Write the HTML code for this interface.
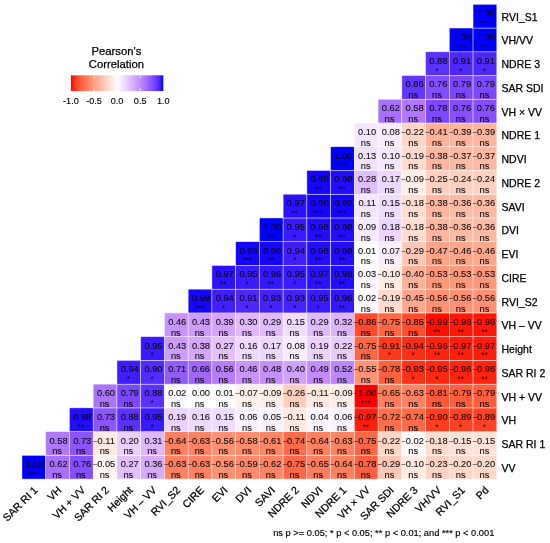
<!DOCTYPE html><html><head><meta charset="utf-8"><title>Pearson correlation heatmap</title>
<style>html,body{margin:0;padding:0;background:#fff}svg{display:block}text{font-family:"Liberation Sans",sans-serif;fill:#000}.v{font-size:9.3px;text-anchor:middle;stroke:#000;stroke-width:.1px;fill-opacity:.92}.s{font-size:8.4px;stroke:none;fill-opacity:.85}.m{font-size:7.6px}.ax{font-size:10.5px;stroke:#000;stroke-width:.25px}.lt{font-size:11.3px;text-anchor:middle;stroke:#000;stroke-width:.25px}.tk{font-size:9.1px;text-anchor:middle;stroke:#000;stroke-width:.12px}.cap{font-size:9.29px;stroke:#000;stroke-width:.15px}</style></head><body>
<svg width="550" height="543" viewBox="0 0 550 543">
<rect width="550" height="543" fill="#fff"/>
<defs><linearGradient id="lg" x1="0" x2="1" y1="0" y2="0"><stop offset="0%" stop-color="#ff0000"/><stop offset="5%" stop-color="#ff3e22"/><stop offset="10%" stop-color="#ff5b3a"/><stop offset="15%" stop-color="#ff7352"/><stop offset="20%" stop-color="#ff8969"/><stop offset="25%" stop-color="#ff9e81"/><stop offset="30%" stop-color="#ffb299"/><stop offset="35%" stop-color="#ffc6b2"/><stop offset="40%" stop-color="#ffd9cb"/><stop offset="45%" stop-color="#ffece5"/><stop offset="50%" stop-color="#ffffff"/><stop offset="55%" stop-color="#f6e7fe"/><stop offset="60%" stop-color="#ebd0fd"/><stop offset="65%" stop-color="#dfb9fc"/><stop offset="70%" stop-color="#d1a2fb"/><stop offset="75%" stop-color="#c08bfb"/><stop offset="80%" stop-color="#ac74fb"/><stop offset="85%" stop-color="#955dfc"/><stop offset="90%" stop-color="#7845fd"/><stop offset="95%" stop-color="#542bfe"/><stop offset="100%" stop-color="#0000ff"/></linearGradient></defs>
<g stroke="#fff" stroke-width="0.6" stroke-opacity="0.7">
<rect x="22.00" y="455.36" width="23.74" height="23.74" fill="#0000ff"/>
<rect x="45.74" y="455.36" width="23.74" height="23.74" fill="#a870fb"/>
<rect x="69.48" y="455.36" width="23.74" height="23.74" fill="#854ffc"/>
<rect x="93.22" y="455.36" width="23.74" height="23.74" fill="#fff5f2"/>
<rect x="116.96" y="455.36" width="23.74" height="23.74" fill="#e3c0fc"/>
<rect x="140.70" y="455.36" width="23.74" height="23.74" fill="#d7abfb"/>
<rect x="164.44" y="455.36" width="23.74" height="23.74" fill="#ff8362"/>
<rect x="188.18" y="455.36" width="23.74" height="23.74" fill="#ff8362"/>
<rect x="211.92" y="455.36" width="23.74" height="23.74" fill="#ff9273"/>
<rect x="235.66" y="455.36" width="23.74" height="23.74" fill="#ff8b6c"/>
<rect x="259.40" y="455.36" width="23.74" height="23.74" fill="#ff8565"/>
<rect x="283.14" y="455.36" width="23.74" height="23.74" fill="#ff6846"/>
<rect x="306.88" y="455.36" width="23.74" height="23.74" fill="#ff7e5e"/>
<rect x="330.62" y="455.36" width="23.74" height="23.74" fill="#ff8160"/>
<rect x="354.36" y="455.36" width="23.74" height="23.74" fill="#ff603f"/>
<rect x="378.10" y="455.36" width="23.74" height="23.74" fill="#ffc7b5"/>
<rect x="401.84" y="455.36" width="23.74" height="23.74" fill="#ffece5"/>
<rect x="425.58" y="455.36" width="23.74" height="23.74" fill="#ffd3c4"/>
<rect x="449.32" y="455.36" width="23.74" height="23.74" fill="#ffd9cb"/>
<rect x="473.06" y="455.36" width="23.74" height="23.74" fill="#ffd9cb"/>
<rect x="45.74" y="431.62" width="23.74" height="23.74" fill="#b079fb"/>
<rect x="69.48" y="431.62" width="23.74" height="23.74" fill="#8d56fc"/>
<rect x="93.22" y="431.62" width="23.74" height="23.74" fill="#ffeae2"/>
<rect x="116.96" y="431.62" width="23.74" height="23.74" fill="#ebd0fd"/>
<rect x="140.70" y="431.62" width="23.74" height="23.74" fill="#deb7fc"/>
<rect x="164.44" y="431.62" width="23.74" height="23.74" fill="#ff8160"/>
<rect x="188.18" y="431.62" width="23.74" height="23.74" fill="#ff8362"/>
<rect x="211.92" y="431.62" width="23.74" height="23.74" fill="#ff9273"/>
<rect x="235.66" y="431.62" width="23.74" height="23.74" fill="#ff8d6e"/>
<rect x="259.40" y="431.62" width="23.74" height="23.74" fill="#ff8767"/>
<rect x="283.14" y="431.62" width="23.74" height="23.74" fill="#ff6a49"/>
<rect x="306.88" y="431.62" width="23.74" height="23.74" fill="#ff8160"/>
<rect x="330.62" y="431.62" width="23.74" height="23.74" fill="#ff8362"/>
<rect x="354.36" y="431.62" width="23.74" height="23.74" fill="#ff6846"/>
<rect x="378.10" y="431.62" width="23.74" height="23.74" fill="#ffd5c6"/>
<rect x="401.84" y="431.62" width="23.74" height="23.74" fill="#fffbfa"/>
<rect x="425.58" y="431.62" width="23.74" height="23.74" fill="#ffddd0"/>
<rect x="449.32" y="431.62" width="23.74" height="23.74" fill="#ffe2d8"/>
<rect x="473.06" y="431.62" width="23.74" height="23.74" fill="#ffe2d8"/>
<rect x="69.48" y="407.88" width="23.74" height="23.74" fill="#220dff"/>
<rect x="93.22" y="407.88" width="23.74" height="23.74" fill="#8d56fc"/>
<rect x="116.96" y="407.88" width="23.74" height="23.74" fill="#5c31fe"/>
<rect x="140.70" y="407.88" width="23.74" height="23.74" fill="#3a1bfe"/>
<rect x="164.44" y="407.88" width="23.74" height="23.74" fill="#ecd2fd"/>
<rect x="188.18" y="407.88" width="23.74" height="23.74" fill="#efd9fd"/>
<rect x="211.92" y="407.88" width="23.74" height="23.74" fill="#f0dcfd"/>
<rect x="235.66" y="407.88" width="23.74" height="23.74" fill="#f9f1fe"/>
<rect x="259.40" y="407.88" width="23.74" height="23.74" fill="#faf3fe"/>
<rect x="283.14" y="407.88" width="23.74" height="23.74" fill="#ffeae2"/>
<rect x="306.88" y="407.88" width="23.74" height="23.74" fill="#fbf6fe"/>
<rect x="330.62" y="407.88" width="23.74" height="23.74" fill="#f9f1fe"/>
<rect x="354.36" y="407.88" width="23.74" height="23.74" fill="#ff1e0c"/>
<rect x="378.10" y="407.88" width="23.74" height="23.74" fill="#ff6f4d"/>
<rect x="401.84" y="407.88" width="23.74" height="23.74" fill="#ff6a49"/>
<rect x="425.58" y="407.88" width="23.74" height="23.74" fill="#ff3e22"/>
<rect x="449.32" y="407.88" width="23.74" height="23.74" fill="#ff4124"/>
<rect x="473.06" y="407.88" width="23.74" height="23.74" fill="#ff4124"/>
<rect x="93.22" y="384.14" width="23.74" height="23.74" fill="#ac74fb"/>
<rect x="116.96" y="384.14" width="23.74" height="23.74" fill="#7c48fd"/>
<rect x="140.70" y="384.14" width="23.74" height="23.74" fill="#5c31fe"/>
<rect x="164.44" y="384.14" width="23.74" height="23.74" fill="#fdfaff"/>
<rect x="188.18" y="384.14" width="23.74" height="23.74" fill="#ffffff"/>
<rect x="211.92" y="384.14" width="23.74" height="23.74" fill="#fefdff"/>
<rect x="235.66" y="384.14" width="23.74" height="23.74" fill="#fff2ed"/>
<rect x="259.40" y="384.14" width="23.74" height="23.74" fill="#ffeee8"/>
<rect x="283.14" y="384.14" width="23.74" height="23.74" fill="#ffcdbc"/>
<rect x="306.88" y="384.14" width="23.74" height="23.74" fill="#ffeae2"/>
<rect x="330.62" y="384.14" width="23.74" height="23.74" fill="#ffeee8"/>
<rect x="354.36" y="384.14" width="23.74" height="23.74" fill="#ff0000"/>
<rect x="378.10" y="384.14" width="23.74" height="23.74" fill="#ff7e5e"/>
<rect x="401.84" y="384.14" width="23.74" height="23.74" fill="#ff8362"/>
<rect x="425.58" y="384.14" width="23.74" height="23.74" fill="#ff5838"/>
<rect x="449.32" y="384.14" width="23.74" height="23.74" fill="#ff5e3d"/>
<rect x="473.06" y="384.14" width="23.74" height="23.74" fill="#ff5e3d"/>
<rect x="116.96" y="360.40" width="23.74" height="23.74" fill="#401efe"/>
<rect x="140.70" y="360.40" width="23.74" height="23.74" fill="#542bfe"/>
<rect x="164.44" y="360.40" width="23.74" height="23.74" fill="#925bfc"/>
<rect x="188.18" y="360.40" width="23.74" height="23.74" fill="#9f67fb"/>
<rect x="211.92" y="360.40" width="23.74" height="23.74" fill="#b47dfb"/>
<rect x="235.66" y="360.40" width="23.74" height="23.74" fill="#c794fb"/>
<rect x="259.40" y="360.40" width="23.74" height="23.74" fill="#c390fb"/>
<rect x="283.14" y="360.40" width="23.74" height="23.74" fill="#d1a2fb"/>
<rect x="306.88" y="360.40" width="23.74" height="23.74" fill="#c28dfb"/>
<rect x="330.62" y="360.40" width="23.74" height="23.74" fill="#bc87fb"/>
<rect x="354.36" y="360.40" width="23.74" height="23.74" fill="#ff9475"/>
<rect x="378.10" y="360.40" width="23.74" height="23.74" fill="#ff603f"/>
<rect x="401.84" y="360.40" width="23.74" height="23.74" fill="#ff3219"/>
<rect x="425.58" y="360.40" width="23.74" height="23.74" fill="#ff2913"/>
<rect x="449.32" y="360.40" width="23.74" height="23.74" fill="#ff2410"/>
<rect x="473.06" y="360.40" width="23.74" height="23.74" fill="#ff2410"/>
<rect x="140.70" y="336.66" width="23.74" height="23.74" fill="#3a1bfe"/>
<rect x="164.44" y="336.66" width="23.74" height="23.74" fill="#cc9bfb"/>
<rect x="188.18" y="336.66" width="23.74" height="23.74" fill="#d4a7fb"/>
<rect x="211.92" y="336.66" width="23.74" height="23.74" fill="#e3c0fc"/>
<rect x="235.66" y="336.66" width="23.74" height="23.74" fill="#efd9fd"/>
<rect x="259.40" y="336.66" width="23.74" height="23.74" fill="#eed7fd"/>
<rect x="283.14" y="336.66" width="23.74" height="23.74" fill="#f8ecfe"/>
<rect x="306.88" y="336.66" width="23.74" height="23.74" fill="#ecd2fd"/>
<rect x="330.62" y="336.66" width="23.74" height="23.74" fill="#e9cbfc"/>
<rect x="354.36" y="336.66" width="23.74" height="23.74" fill="#ff6846"/>
<rect x="378.10" y="336.66" width="23.74" height="23.74" fill="#ff3a1f"/>
<rect x="401.84" y="336.66" width="23.74" height="23.74" fill="#ff2e16"/>
<rect x="425.58" y="336.66" width="23.74" height="23.74" fill="#ff2410"/>
<rect x="449.32" y="336.66" width="23.74" height="23.74" fill="#ff1e0c"/>
<rect x="473.06" y="336.66" width="23.74" height="23.74" fill="#ff1e0c"/>
<rect x="164.44" y="312.92" width="23.74" height="23.74" fill="#c794fb"/>
<rect x="188.18" y="312.92" width="23.74" height="23.74" fill="#cc9bfb"/>
<rect x="211.92" y="312.92" width="23.74" height="23.74" fill="#d2a4fb"/>
<rect x="235.66" y="312.92" width="23.74" height="23.74" fill="#dfb9fc"/>
<rect x="259.40" y="312.92" width="23.74" height="23.74" fill="#e0bbfc"/>
<rect x="283.14" y="312.92" width="23.74" height="23.74" fill="#f0dcfd"/>
<rect x="306.88" y="312.92" width="23.74" height="23.74" fill="#e0bbfc"/>
<rect x="330.62" y="312.92" width="23.74" height="23.74" fill="#dcb4fc"/>
<rect x="354.36" y="312.92" width="23.74" height="23.74" fill="#ff4a2c"/>
<rect x="378.10" y="312.92" width="23.74" height="23.74" fill="#ff6846"/>
<rect x="401.84" y="312.92" width="23.74" height="23.74" fill="#ff4d2e"/>
<rect x="425.58" y="312.92" width="23.74" height="23.74" fill="#ff0e04"/>
<rect x="449.32" y="312.92" width="23.74" height="23.74" fill="#ff1708"/>
<rect x="473.06" y="312.92" width="23.74" height="23.74" fill="#ff1708"/>
<rect x="188.18" y="289.18" width="23.74" height="23.74" fill="#1606ff"/>
<rect x="211.92" y="289.18" width="23.74" height="23.74" fill="#401efe"/>
<rect x="235.66" y="289.18" width="23.74" height="23.74" fill="#4f28fe"/>
<rect x="259.40" y="289.18" width="23.74" height="23.74" fill="#4522fe"/>
<rect x="283.14" y="289.18" width="23.74" height="23.74" fill="#4522fe"/>
<rect x="306.88" y="289.18" width="23.74" height="23.74" fill="#3a1bfe"/>
<rect x="330.62" y="289.18" width="23.74" height="23.74" fill="#3317fe"/>
<rect x="354.36" y="289.18" width="23.74" height="23.74" fill="#fdfaff"/>
<rect x="378.10" y="289.18" width="23.74" height="23.74" fill="#ffdbce"/>
<rect x="401.84" y="289.18" width="23.74" height="23.74" fill="#ffa88d"/>
<rect x="425.58" y="289.18" width="23.74" height="23.74" fill="#ff9273"/>
<rect x="449.32" y="289.18" width="23.74" height="23.74" fill="#ff9273"/>
<rect x="473.06" y="289.18" width="23.74" height="23.74" fill="#ff9273"/>
<rect x="211.92" y="265.44" width="23.74" height="23.74" fill="#2b12ff"/>
<rect x="235.66" y="265.44" width="23.74" height="23.74" fill="#3a1bfe"/>
<rect x="259.40" y="265.44" width="23.74" height="23.74" fill="#3317fe"/>
<rect x="283.14" y="265.44" width="23.74" height="23.74" fill="#3a1bfe"/>
<rect x="306.88" y="265.44" width="23.74" height="23.74" fill="#2b12ff"/>
<rect x="330.62" y="265.44" width="23.74" height="23.74" fill="#220dff"/>
<rect x="354.36" y="265.44" width="23.74" height="23.74" fill="#fcf8ff"/>
<rect x="378.10" y="265.44" width="23.74" height="23.74" fill="#ffece5"/>
<rect x="401.84" y="265.44" width="23.74" height="23.74" fill="#ffb299"/>
<rect x="425.58" y="265.44" width="23.74" height="23.74" fill="#ff987a"/>
<rect x="449.32" y="265.44" width="23.74" height="23.74" fill="#ff987a"/>
<rect x="473.06" y="265.44" width="23.74" height="23.74" fill="#ff987a"/>
<rect x="235.66" y="241.70" width="23.74" height="23.74" fill="#1606ff"/>
<rect x="259.40" y="241.70" width="23.74" height="23.74" fill="#1606ff"/>
<rect x="283.14" y="241.70" width="23.74" height="23.74" fill="#401efe"/>
<rect x="306.88" y="241.70" width="23.74" height="23.74" fill="#220dff"/>
<rect x="330.62" y="241.70" width="23.74" height="23.74" fill="#220dff"/>
<rect x="354.36" y="241.70" width="23.74" height="23.74" fill="#fefdff"/>
<rect x="378.10" y="241.70" width="23.74" height="23.74" fill="#f9eefe"/>
<rect x="401.84" y="241.70" width="23.74" height="23.74" fill="#ffc7b5"/>
<rect x="425.58" y="241.70" width="23.74" height="23.74" fill="#ffa488"/>
<rect x="449.32" y="241.70" width="23.74" height="23.74" fill="#ffa68b"/>
<rect x="473.06" y="241.70" width="23.74" height="23.74" fill="#ffa68b"/>
<rect x="259.40" y="217.96" width="23.74" height="23.74" fill="#0000ff"/>
<rect x="283.14" y="217.96" width="23.74" height="23.74" fill="#3a1bfe"/>
<rect x="306.88" y="217.96" width="23.74" height="23.74" fill="#220dff"/>
<rect x="330.62" y="217.96" width="23.74" height="23.74" fill="#220dff"/>
<rect x="354.36" y="217.96" width="23.74" height="23.74" fill="#f7eafe"/>
<rect x="378.10" y="217.96" width="23.74" height="23.74" fill="#edd5fd"/>
<rect x="401.84" y="217.96" width="23.74" height="23.74" fill="#ffddd0"/>
<rect x="425.58" y="217.96" width="23.74" height="23.74" fill="#ffb69e"/>
<rect x="449.32" y="217.96" width="23.74" height="23.74" fill="#ffbaa3"/>
<rect x="473.06" y="217.96" width="23.74" height="23.74" fill="#ffbaa3"/>
<rect x="283.14" y="194.22" width="23.74" height="23.74" fill="#2b12ff"/>
<rect x="306.88" y="194.22" width="23.74" height="23.74" fill="#1606ff"/>
<rect x="330.62" y="194.22" width="23.74" height="23.74" fill="#1606ff"/>
<rect x="354.36" y="194.22" width="23.74" height="23.74" fill="#f5e5fe"/>
<rect x="378.10" y="194.22" width="23.74" height="23.74" fill="#f0dcfd"/>
<rect x="401.84" y="194.22" width="23.74" height="23.74" fill="#ffddd0"/>
<rect x="425.58" y="194.22" width="23.74" height="23.74" fill="#ffb69e"/>
<rect x="449.32" y="194.22" width="23.74" height="23.74" fill="#ffbaa3"/>
<rect x="473.06" y="194.22" width="23.74" height="23.74" fill="#ffbaa3"/>
<rect x="306.88" y="170.48" width="23.74" height="23.74" fill="#1606ff"/>
<rect x="330.62" y="170.48" width="23.74" height="23.74" fill="#220dff"/>
<rect x="354.36" y="170.48" width="23.74" height="23.74" fill="#e1befc"/>
<rect x="378.10" y="170.48" width="23.74" height="23.74" fill="#eed7fd"/>
<rect x="401.84" y="170.48" width="23.74" height="23.74" fill="#ffeee8"/>
<rect x="425.58" y="170.48" width="23.74" height="23.74" fill="#ffcfbf"/>
<rect x="449.32" y="170.48" width="23.74" height="23.74" fill="#ffd1c1"/>
<rect x="473.06" y="170.48" width="23.74" height="23.74" fill="#ffd1c1"/>
<rect x="330.62" y="146.74" width="23.74" height="23.74" fill="#0000ff"/>
<rect x="354.36" y="146.74" width="23.74" height="23.74" fill="#f3e0fd"/>
<rect x="378.10" y="146.74" width="23.74" height="23.74" fill="#f6e7fe"/>
<rect x="401.84" y="146.74" width="23.74" height="23.74" fill="#ffdbce"/>
<rect x="425.58" y="146.74" width="23.74" height="23.74" fill="#ffb69e"/>
<rect x="449.32" y="146.74" width="23.74" height="23.74" fill="#ffb8a1"/>
<rect x="473.06" y="146.74" width="23.74" height="23.74" fill="#ffb8a1"/>
<rect x="354.36" y="123.00" width="23.74" height="23.74" fill="#f6e7fe"/>
<rect x="378.10" y="123.00" width="23.74" height="23.74" fill="#f8ecfe"/>
<rect x="401.84" y="123.00" width="23.74" height="23.74" fill="#ffd5c6"/>
<rect x="425.58" y="123.00" width="23.74" height="23.74" fill="#ffb097"/>
<rect x="449.32" y="123.00" width="23.74" height="23.74" fill="#ffb49c"/>
<rect x="473.06" y="123.00" width="23.74" height="23.74" fill="#ffb49c"/>
<rect x="378.10" y="99.26" width="23.74" height="23.74" fill="#a870fb"/>
<rect x="401.84" y="99.26" width="23.74" height="23.74" fill="#b079fb"/>
<rect x="425.58" y="99.26" width="23.74" height="23.74" fill="#7f4afc"/>
<rect x="449.32" y="99.26" width="23.74" height="23.74" fill="#854ffc"/>
<rect x="473.06" y="99.26" width="23.74" height="23.74" fill="#854ffc"/>
<rect x="401.84" y="75.52" width="23.74" height="23.74" fill="#6436fd"/>
<rect x="425.58" y="75.52" width="23.74" height="23.74" fill="#854ffc"/>
<rect x="449.32" y="75.52" width="23.74" height="23.74" fill="#7c48fd"/>
<rect x="473.06" y="75.52" width="23.74" height="23.74" fill="#7c48fd"/>
<rect x="425.58" y="51.78" width="23.74" height="23.74" fill="#5c31fe"/>
<rect x="449.32" y="51.78" width="23.74" height="23.74" fill="#4f28fe"/>
<rect x="473.06" y="51.78" width="23.74" height="23.74" fill="#4f28fe"/>
<rect x="449.32" y="28.04" width="23.74" height="23.74" fill="#0000ff"/>
<rect x="473.06" y="28.04" width="23.74" height="23.74" fill="#0000ff"/>
<rect x="473.06" y="4.30" width="23.74" height="23.74" fill="#0000ff"/>
</g>
<g class="v">
<text x="34.77" y="467.26">1.00</text>
<text class="s" x="33.37" y="477.11">***</text>
<text x="58.51" y="467.26">0.62</text>
<text x="57.11" y="478.11">ns</text>
<text x="82.25" y="467.26">0.76</text>
<text x="80.85" y="478.11">ns</text>
<text x="103.99" y="467.26"><tspan class="m">−</tspan>0.05</text>
<text x="104.59" y="478.11">ns</text>
<text x="129.73" y="467.26">0.27</text>
<text x="128.33" y="478.11">ns</text>
<text x="153.47" y="467.26">0.36</text>
<text x="152.07" y="478.11">ns</text>
<text x="175.21" y="467.26"><tspan class="m">−</tspan>0.63</text>
<text x="175.81" y="478.11">ns</text>
<text x="198.95" y="467.26"><tspan class="m">−</tspan>0.63</text>
<text x="199.55" y="478.11">ns</text>
<text x="222.69" y="467.26"><tspan class="m">−</tspan>0.56</text>
<text x="223.29" y="478.11">ns</text>
<text x="246.43" y="467.26"><tspan class="m">−</tspan>0.59</text>
<text x="247.03" y="478.11">ns</text>
<text x="270.17" y="467.26"><tspan class="m">−</tspan>0.62</text>
<text x="270.77" y="478.11">ns</text>
<text x="293.91" y="467.26"><tspan class="m">−</tspan>0.75</text>
<text x="294.51" y="478.11">ns</text>
<text x="317.65" y="467.26"><tspan class="m">−</tspan>0.65</text>
<text x="318.25" y="478.11">ns</text>
<text x="341.39" y="467.26"><tspan class="m">−</tspan>0.64</text>
<text x="341.99" y="478.11">ns</text>
<text x="365.13" y="467.26"><tspan class="m">−</tspan>0.78</text>
<text x="365.73" y="478.11">ns</text>
<text x="388.87" y="467.26"><tspan class="m">−</tspan>0.29</text>
<text x="389.47" y="478.11">ns</text>
<text x="412.61" y="467.26"><tspan class="m">−</tspan>0.10</text>
<text x="413.21" y="478.11">ns</text>
<text x="436.35" y="467.26"><tspan class="m">−</tspan>0.23</text>
<text x="436.95" y="478.11">ns</text>
<text x="460.09" y="467.26"><tspan class="m">−</tspan>0.20</text>
<text x="460.69" y="478.11">ns</text>
<text x="483.83" y="467.26"><tspan class="m">−</tspan>0.20</text>
<text x="484.43" y="478.11">ns</text>
<text x="58.51" y="443.52">0.58</text>
<text x="57.11" y="454.37">ns</text>
<text x="82.25" y="443.52">0.73</text>
<text x="80.85" y="454.37">ns</text>
<text x="103.99" y="443.52"><tspan class="m">−</tspan>0.11</text>
<text x="104.59" y="454.37">ns</text>
<text x="129.73" y="443.52">0.20</text>
<text x="128.33" y="454.37">ns</text>
<text x="153.47" y="443.52">0.31</text>
<text x="152.07" y="454.37">ns</text>
<text x="175.21" y="443.52"><tspan class="m">−</tspan>0.64</text>
<text x="175.81" y="454.37">ns</text>
<text x="198.95" y="443.52"><tspan class="m">−</tspan>0.63</text>
<text x="199.55" y="454.37">ns</text>
<text x="222.69" y="443.52"><tspan class="m">−</tspan>0.56</text>
<text x="223.29" y="454.37">ns</text>
<text x="246.43" y="443.52"><tspan class="m">−</tspan>0.58</text>
<text x="247.03" y="454.37">ns</text>
<text x="270.17" y="443.52"><tspan class="m">−</tspan>0.61</text>
<text x="270.77" y="454.37">ns</text>
<text x="293.91" y="443.52"><tspan class="m">−</tspan>0.74</text>
<text x="294.51" y="454.37">ns</text>
<text x="317.65" y="443.52"><tspan class="m">−</tspan>0.64</text>
<text x="318.25" y="454.37">ns</text>
<text x="341.39" y="443.52"><tspan class="m">−</tspan>0.63</text>
<text x="341.99" y="454.37">ns</text>
<text x="365.13" y="443.52"><tspan class="m">−</tspan>0.75</text>
<text x="365.73" y="454.37">ns</text>
<text x="388.87" y="443.52"><tspan class="m">−</tspan>0.22</text>
<text x="389.47" y="454.37">ns</text>
<text x="412.61" y="443.52"><tspan class="m">−</tspan>0.02</text>
<text x="413.21" y="454.37">ns</text>
<text x="436.35" y="443.52"><tspan class="m">−</tspan>0.18</text>
<text x="436.95" y="454.37">ns</text>
<text x="460.09" y="443.52"><tspan class="m">−</tspan>0.15</text>
<text x="460.69" y="454.37">ns</text>
<text x="483.83" y="443.52"><tspan class="m">−</tspan>0.15</text>
<text x="484.43" y="454.37">ns</text>
<text x="82.25" y="419.78">0.98</text>
<text class="s" x="80.85" y="429.63">**</text>
<text x="105.99" y="419.78">0.73</text>
<text x="104.59" y="430.63">ns</text>
<text x="129.73" y="419.78">0.88</text>
<text x="128.33" y="430.63">ns</text>
<text x="153.47" y="419.78">0.95</text>
<text class="s" x="152.07" y="429.63">*</text>
<text x="177.21" y="419.78">0.19</text>
<text x="175.81" y="430.63">ns</text>
<text x="200.95" y="419.78">0.16</text>
<text x="199.55" y="430.63">ns</text>
<text x="224.69" y="419.78">0.15</text>
<text x="223.29" y="430.63">ns</text>
<text x="248.43" y="419.78">0.06</text>
<text x="247.03" y="430.63">ns</text>
<text x="272.17" y="419.78">0.05</text>
<text x="270.77" y="430.63">ns</text>
<text x="293.91" y="419.78"><tspan class="m">−</tspan>0.11</text>
<text x="294.51" y="430.63">ns</text>
<text x="319.65" y="419.78">0.04</text>
<text x="318.25" y="430.63">ns</text>
<text x="343.39" y="419.78">0.06</text>
<text x="341.99" y="430.63">ns</text>
<text x="365.13" y="419.78"><tspan class="m">−</tspan>0.97</text>
<text class="s" x="365.73" y="429.63">**</text>
<text x="388.87" y="419.78"><tspan class="m">−</tspan>0.72</text>
<text x="389.47" y="430.63">ns</text>
<text x="412.61" y="419.78"><tspan class="m">−</tspan>0.74</text>
<text x="413.21" y="430.63">ns</text>
<text x="436.35" y="419.78"><tspan class="m">−</tspan>0.90</text>
<text class="s" x="436.95" y="429.63">*</text>
<text x="460.09" y="419.78"><tspan class="m">−</tspan>0.89</text>
<text class="s" x="460.69" y="429.63">*</text>
<text x="483.83" y="419.78"><tspan class="m">−</tspan>0.89</text>
<text class="s" x="484.43" y="429.63">*</text>
<text x="105.99" y="396.04">0.60</text>
<text x="104.59" y="406.89">ns</text>
<text x="129.73" y="396.04">0.79</text>
<text x="128.33" y="406.89">ns</text>
<text x="153.47" y="396.04">0.88</text>
<text class="s" x="152.07" y="405.89">*</text>
<text x="177.21" y="396.04">0.02</text>
<text x="175.81" y="406.89">ns</text>
<text x="200.95" y="396.04">0.00</text>
<text x="199.55" y="406.89">ns</text>
<text x="224.69" y="396.04">0.01</text>
<text x="223.29" y="406.89">ns</text>
<text x="246.43" y="396.04"><tspan class="m">−</tspan>0.07</text>
<text x="247.03" y="406.89">ns</text>
<text x="270.17" y="396.04"><tspan class="m">−</tspan>0.09</text>
<text x="270.77" y="406.89">ns</text>
<text x="293.91" y="396.04"><tspan class="m">−</tspan>0.26</text>
<text x="294.51" y="406.89">ns</text>
<text x="317.65" y="396.04"><tspan class="m">−</tspan>0.11</text>
<text x="318.25" y="406.89">ns</text>
<text x="341.39" y="396.04"><tspan class="m">−</tspan>0.09</text>
<text x="341.99" y="406.89">ns</text>
<text x="365.13" y="396.04"><tspan class="m">−</tspan>1.00</text>
<text class="s" x="365.73" y="405.89">***</text>
<text x="388.87" y="396.04"><tspan class="m">−</tspan>0.65</text>
<text x="389.47" y="406.89">ns</text>
<text x="412.61" y="396.04"><tspan class="m">−</tspan>0.63</text>
<text x="413.21" y="406.89">ns</text>
<text x="436.35" y="396.04"><tspan class="m">−</tspan>0.81</text>
<text x="436.95" y="406.89">ns</text>
<text x="460.09" y="396.04"><tspan class="m">−</tspan>0.79</text>
<text x="460.69" y="406.89">ns</text>
<text x="483.83" y="396.04"><tspan class="m">−</tspan>0.79</text>
<text x="484.43" y="406.89">ns</text>
<text x="129.73" y="372.30">0.94</text>
<text class="s" x="128.33" y="382.15">*</text>
<text x="153.47" y="372.30">0.90</text>
<text class="s" x="152.07" y="382.15">*</text>
<text x="177.21" y="372.30">0.71</text>
<text x="175.81" y="383.15">ns</text>
<text x="200.95" y="372.30">0.66</text>
<text x="199.55" y="383.15">ns</text>
<text x="224.69" y="372.30">0.56</text>
<text x="223.29" y="383.15">ns</text>
<text x="248.43" y="372.30">0.46</text>
<text x="247.03" y="383.15">ns</text>
<text x="272.17" y="372.30">0.48</text>
<text x="270.77" y="383.15">ns</text>
<text x="295.91" y="372.30">0.40</text>
<text x="294.51" y="383.15">ns</text>
<text x="319.65" y="372.30">0.49</text>
<text x="318.25" y="383.15">ns</text>
<text x="343.39" y="372.30">0.52</text>
<text x="341.99" y="383.15">ns</text>
<text x="365.13" y="372.30"><tspan class="m">−</tspan>0.55</text>
<text x="365.73" y="383.15">ns</text>
<text x="388.87" y="372.30"><tspan class="m">−</tspan>0.78</text>
<text x="389.47" y="383.15">ns</text>
<text x="412.61" y="372.30"><tspan class="m">−</tspan>0.93</text>
<text class="s" x="413.21" y="382.15">*</text>
<text x="436.35" y="372.30"><tspan class="m">−</tspan>0.95</text>
<text class="s" x="436.95" y="382.15">*</text>
<text x="460.09" y="372.30"><tspan class="m">−</tspan>0.96</text>
<text class="s" x="460.69" y="382.15">**</text>
<text x="483.83" y="372.30"><tspan class="m">−</tspan>0.96</text>
<text class="s" x="484.43" y="382.15">**</text>
<text x="153.47" y="348.56">0.95</text>
<text class="s" x="152.07" y="358.41">*</text>
<text x="177.21" y="348.56">0.43</text>
<text x="175.81" y="359.41">ns</text>
<text x="200.95" y="348.56">0.38</text>
<text x="199.55" y="359.41">ns</text>
<text x="224.69" y="348.56">0.27</text>
<text x="223.29" y="359.41">ns</text>
<text x="248.43" y="348.56">0.16</text>
<text x="247.03" y="359.41">ns</text>
<text x="272.17" y="348.56">0.17</text>
<text x="270.77" y="359.41">ns</text>
<text x="295.91" y="348.56">0.08</text>
<text x="294.51" y="359.41">ns</text>
<text x="319.65" y="348.56">0.19</text>
<text x="318.25" y="359.41">ns</text>
<text x="343.39" y="348.56">0.22</text>
<text x="341.99" y="359.41">ns</text>
<text x="365.13" y="348.56"><tspan class="m">−</tspan>0.75</text>
<text x="365.73" y="359.41">ns</text>
<text x="388.87" y="348.56"><tspan class="m">−</tspan>0.91</text>
<text class="s" x="389.47" y="358.41">*</text>
<text x="412.61" y="348.56"><tspan class="m">−</tspan>0.94</text>
<text class="s" x="413.21" y="358.41">*</text>
<text x="436.35" y="348.56"><tspan class="m">−</tspan>0.96</text>
<text class="s" x="436.95" y="358.41">**</text>
<text x="460.09" y="348.56"><tspan class="m">−</tspan>0.97</text>
<text class="s" x="460.69" y="358.41">**</text>
<text x="483.83" y="348.56"><tspan class="m">−</tspan>0.97</text>
<text class="s" x="484.43" y="358.41">**</text>
<text x="177.21" y="324.82">0.46</text>
<text x="175.81" y="335.67">ns</text>
<text x="200.95" y="324.82">0.43</text>
<text x="199.55" y="335.67">ns</text>
<text x="224.69" y="324.82">0.39</text>
<text x="223.29" y="335.67">ns</text>
<text x="248.43" y="324.82">0.30</text>
<text x="247.03" y="335.67">ns</text>
<text x="272.17" y="324.82">0.29</text>
<text x="270.77" y="335.67">ns</text>
<text x="295.91" y="324.82">0.15</text>
<text x="294.51" y="335.67">ns</text>
<text x="319.65" y="324.82">0.29</text>
<text x="318.25" y="335.67">ns</text>
<text x="343.39" y="324.82">0.32</text>
<text x="341.99" y="335.67">ns</text>
<text x="365.13" y="324.82"><tspan class="m">−</tspan>0.86</text>
<text x="365.73" y="335.67">ns</text>
<text x="388.87" y="324.82"><tspan class="m">−</tspan>0.75</text>
<text x="389.47" y="335.67">ns</text>
<text x="412.61" y="324.82"><tspan class="m">−</tspan>0.85</text>
<text x="413.21" y="335.67">ns</text>
<text x="436.35" y="324.82"><tspan class="m">−</tspan>0.99</text>
<text class="s" x="436.95" y="334.67">**</text>
<text x="460.09" y="324.82"><tspan class="m">−</tspan>0.98</text>
<text class="s" x="460.69" y="334.67">**</text>
<text x="483.83" y="324.82"><tspan class="m">−</tspan>0.98</text>
<text class="s" x="484.43" y="334.67">**</text>
<text x="200.95" y="301.08">0.99</text>
<text class="s" x="199.55" y="310.93">***</text>
<text x="224.69" y="301.08">0.94</text>
<text class="s" x="223.29" y="310.93">*</text>
<text x="248.43" y="301.08">0.91</text>
<text class="s" x="247.03" y="310.93">*</text>
<text x="272.17" y="301.08">0.93</text>
<text class="s" x="270.77" y="310.93">*</text>
<text x="295.91" y="301.08">0.93</text>
<text class="s" x="294.51" y="310.93">*</text>
<text x="319.65" y="301.08">0.95</text>
<text class="s" x="318.25" y="310.93">*</text>
<text x="343.39" y="301.08">0.96</text>
<text class="s" x="341.99" y="310.93">**</text>
<text x="367.13" y="301.08">0.02</text>
<text x="365.73" y="311.93">ns</text>
<text x="388.87" y="301.08"><tspan class="m">−</tspan>0.19</text>
<text x="389.47" y="311.93">ns</text>
<text x="412.61" y="301.08"><tspan class="m">−</tspan>0.45</text>
<text x="413.21" y="311.93">ns</text>
<text x="436.35" y="301.08"><tspan class="m">−</tspan>0.56</text>
<text x="436.95" y="311.93">ns</text>
<text x="460.09" y="301.08"><tspan class="m">−</tspan>0.56</text>
<text x="460.69" y="311.93">ns</text>
<text x="483.83" y="301.08"><tspan class="m">−</tspan>0.56</text>
<text x="484.43" y="311.93">ns</text>
<text x="224.69" y="277.34">0.97</text>
<text class="s" x="223.29" y="287.19">**</text>
<text x="248.43" y="277.34">0.95</text>
<text class="s" x="247.03" y="287.19">*</text>
<text x="272.17" y="277.34">0.96</text>
<text class="s" x="270.77" y="287.19">**</text>
<text x="295.91" y="277.34">0.95</text>
<text class="s" x="294.51" y="287.19">*</text>
<text x="319.65" y="277.34">0.97</text>
<text class="s" x="318.25" y="287.19">**</text>
<text x="343.39" y="277.34">0.98</text>
<text class="s" x="341.99" y="287.19">**</text>
<text x="367.13" y="277.34">0.03</text>
<text x="365.73" y="288.19">ns</text>
<text x="388.87" y="277.34"><tspan class="m">−</tspan>0.10</text>
<text x="389.47" y="288.19">ns</text>
<text x="412.61" y="277.34"><tspan class="m">−</tspan>0.40</text>
<text x="413.21" y="288.19">ns</text>
<text x="436.35" y="277.34"><tspan class="m">−</tspan>0.53</text>
<text x="436.95" y="288.19">ns</text>
<text x="460.09" y="277.34"><tspan class="m">−</tspan>0.53</text>
<text x="460.69" y="288.19">ns</text>
<text x="483.83" y="277.34"><tspan class="m">−</tspan>0.53</text>
<text x="484.43" y="288.19">ns</text>
<text x="248.43" y="253.60">0.99</text>
<text class="s" x="247.03" y="263.45">***</text>
<text x="272.17" y="253.60">0.99</text>
<text class="s" x="270.77" y="263.45">**</text>
<text x="295.91" y="253.60">0.94</text>
<text class="s" x="294.51" y="263.45">*</text>
<text x="319.65" y="253.60">0.98</text>
<text class="s" x="318.25" y="263.45">**</text>
<text x="343.39" y="253.60">0.98</text>
<text class="s" x="341.99" y="263.45">**</text>
<text x="367.13" y="253.60">0.01</text>
<text x="365.73" y="264.45">ns</text>
<text x="390.87" y="253.60">0.07</text>
<text x="389.47" y="264.45">ns</text>
<text x="412.61" y="253.60"><tspan class="m">−</tspan>0.29</text>
<text x="413.21" y="264.45">ns</text>
<text x="436.35" y="253.60"><tspan class="m">−</tspan>0.47</text>
<text x="436.95" y="264.45">ns</text>
<text x="460.09" y="253.60"><tspan class="m">−</tspan>0.46</text>
<text x="460.69" y="264.45">ns</text>
<text x="483.83" y="253.60"><tspan class="m">−</tspan>0.46</text>
<text x="484.43" y="264.45">ns</text>
<text x="272.17" y="229.86">1.00</text>
<text class="s" x="270.77" y="239.71">***</text>
<text x="295.91" y="229.86">0.95</text>
<text class="s" x="294.51" y="239.71">*</text>
<text x="319.65" y="229.86">0.98</text>
<text class="s" x="318.25" y="239.71">**</text>
<text x="343.39" y="229.86">0.98</text>
<text class="s" x="341.99" y="239.71">**</text>
<text x="367.13" y="229.86">0.09</text>
<text x="365.73" y="240.71">ns</text>
<text x="390.87" y="229.86">0.18</text>
<text x="389.47" y="240.71">ns</text>
<text x="412.61" y="229.86"><tspan class="m">−</tspan>0.18</text>
<text x="413.21" y="240.71">ns</text>
<text x="436.35" y="229.86"><tspan class="m">−</tspan>0.38</text>
<text x="436.95" y="240.71">ns</text>
<text x="460.09" y="229.86"><tspan class="m">−</tspan>0.36</text>
<text x="460.69" y="240.71">ns</text>
<text x="483.83" y="229.86"><tspan class="m">−</tspan>0.36</text>
<text x="484.43" y="240.71">ns</text>
<text x="295.91" y="206.12">0.97</text>
<text class="s" x="294.51" y="215.97">**</text>
<text x="319.65" y="206.12">0.99</text>
<text class="s" x="318.25" y="215.97">***</text>
<text x="343.39" y="206.12">0.99</text>
<text class="s" x="341.99" y="215.97">***</text>
<text x="367.13" y="206.12">0.11</text>
<text x="365.73" y="216.97">ns</text>
<text x="390.87" y="206.12">0.15</text>
<text x="389.47" y="216.97">ns</text>
<text x="412.61" y="206.12"><tspan class="m">−</tspan>0.18</text>
<text x="413.21" y="216.97">ns</text>
<text x="436.35" y="206.12"><tspan class="m">−</tspan>0.38</text>
<text x="436.95" y="216.97">ns</text>
<text x="460.09" y="206.12"><tspan class="m">−</tspan>0.36</text>
<text x="460.69" y="216.97">ns</text>
<text x="483.83" y="206.12"><tspan class="m">−</tspan>0.36</text>
<text x="484.43" y="216.97">ns</text>
<text x="319.65" y="182.38">0.99</text>
<text class="s" x="318.25" y="192.23">**</text>
<text x="343.39" y="182.38">0.98</text>
<text class="s" x="341.99" y="192.23">**</text>
<text x="367.13" y="182.38">0.28</text>
<text x="365.73" y="193.23">ns</text>
<text x="390.87" y="182.38">0.17</text>
<text x="389.47" y="193.23">ns</text>
<text x="412.61" y="182.38"><tspan class="m">−</tspan>0.09</text>
<text x="413.21" y="193.23">ns</text>
<text x="436.35" y="182.38"><tspan class="m">−</tspan>0.25</text>
<text x="436.95" y="193.23">ns</text>
<text x="460.09" y="182.38"><tspan class="m">−</tspan>0.24</text>
<text x="460.69" y="193.23">ns</text>
<text x="483.83" y="182.38"><tspan class="m">−</tspan>0.24</text>
<text x="484.43" y="193.23">ns</text>
<text x="343.39" y="158.64">1.00</text>
<text class="s" x="341.99" y="168.49">***</text>
<text x="367.13" y="158.64">0.13</text>
<text x="365.73" y="169.49">ns</text>
<text x="390.87" y="158.64">0.10</text>
<text x="389.47" y="169.49">ns</text>
<text x="412.61" y="158.64"><tspan class="m">−</tspan>0.19</text>
<text x="413.21" y="169.49">ns</text>
<text x="436.35" y="158.64"><tspan class="m">−</tspan>0.38</text>
<text x="436.95" y="169.49">ns</text>
<text x="460.09" y="158.64"><tspan class="m">−</tspan>0.37</text>
<text x="460.69" y="169.49">ns</text>
<text x="483.83" y="158.64"><tspan class="m">−</tspan>0.37</text>
<text x="484.43" y="169.49">ns</text>
<text x="367.13" y="134.90">0.10</text>
<text x="365.73" y="145.75">ns</text>
<text x="390.87" y="134.90">0.08</text>
<text x="389.47" y="145.75">ns</text>
<text x="412.61" y="134.90"><tspan class="m">−</tspan>0.22</text>
<text x="413.21" y="145.75">ns</text>
<text x="436.35" y="134.90"><tspan class="m">−</tspan>0.41</text>
<text x="436.95" y="145.75">ns</text>
<text x="460.09" y="134.90"><tspan class="m">−</tspan>0.39</text>
<text x="460.69" y="145.75">ns</text>
<text x="483.83" y="134.90"><tspan class="m">−</tspan>0.39</text>
<text x="484.43" y="145.75">ns</text>
<text x="390.87" y="111.16">0.62</text>
<text x="389.47" y="122.01">ns</text>
<text x="414.61" y="111.16">0.58</text>
<text x="413.21" y="122.01">ns</text>
<text x="438.35" y="111.16">0.78</text>
<text x="436.95" y="122.01">ns</text>
<text x="462.09" y="111.16">0.76</text>
<text x="460.69" y="122.01">ns</text>
<text x="485.83" y="111.16">0.76</text>
<text x="484.43" y="122.01">ns</text>
<text x="414.61" y="87.42">0.86</text>
<text x="413.21" y="98.27">ns</text>
<text x="438.35" y="87.42">0.76</text>
<text x="436.95" y="98.27">ns</text>
<text x="462.09" y="87.42">0.79</text>
<text x="460.69" y="98.27">ns</text>
<text x="485.83" y="87.42">0.79</text>
<text x="484.43" y="98.27">ns</text>
<text x="438.35" y="63.68">0.88</text>
<text class="s" x="436.95" y="73.53">*</text>
<text x="462.09" y="63.68">0.91</text>
<text class="s" x="460.69" y="73.53">*</text>
<text x="485.83" y="63.68">0.91</text>
<text class="s" x="484.43" y="73.53">*</text>
<text x="462.09" y="39.94">1.00</text>
<text class="s" x="460.69" y="49.79">***</text>
<text x="485.83" y="39.94">1.00</text>
<text class="s" x="484.43" y="49.79">***</text>
<text x="485.83" y="16.20">1.00</text>
<text class="s" x="484.43" y="26.05">***</text>
</g>
<g class="ax">
<text x="501.50" y="471.73">VV</text>
<text x="501.50" y="447.99">SAR RI 1</text>
<text x="501.50" y="424.25">VH</text>
<text x="501.50" y="400.51">VH + VV</text>
<text x="501.50" y="376.77">SAR RI 2</text>
<text x="501.50" y="353.03">Height</text>
<text x="501.50" y="329.29">VH – VV</text>
<text x="501.50" y="305.55">RVI_S2</text>
<text x="501.50" y="281.81">CIRE</text>
<text x="501.50" y="258.07">EVI</text>
<text x="501.50" y="234.33">DVI</text>
<text x="501.50" y="210.59">SAVI</text>
<text x="501.50" y="186.85">NDRE 2</text>
<text x="501.50" y="163.11">NDVI</text>
<text x="501.50" y="139.37">NDRE 1</text>
<text x="501.50" y="115.63">VH × VV</text>
<text x="501.50" y="91.89">SAR SDI</text>
<text x="501.50" y="68.15">NDRE 3</text>
<text x="501.50" y="44.41">VH/VV</text>
<text x="501.50" y="20.67">RVI_S1</text>
<text style="font-size:10.6px" text-anchor="end" transform="translate(33.37,485.70) rotate(-45)" x="0" y="7.20">SAR RI 1</text>
<text style="font-size:10.6px" text-anchor="end" transform="translate(57.11,485.70) rotate(-45)" x="0" y="7.20">VH</text>
<text style="font-size:10.6px" text-anchor="end" transform="translate(80.85,485.70) rotate(-45)" x="0" y="7.20">VH + VV</text>
<text style="font-size:10.6px" text-anchor="end" transform="translate(104.59,485.70) rotate(-45)" x="0" y="7.20">SAR RI 2</text>
<text style="font-size:10.6px" text-anchor="end" transform="translate(128.33,485.70) rotate(-45)" x="0" y="7.20">Height</text>
<text style="font-size:10.6px" text-anchor="end" transform="translate(152.07,485.70) rotate(-45)" x="0" y="7.20">VH – VV</text>
<text style="font-size:10.6px" text-anchor="end" transform="translate(175.81,485.70) rotate(-45)" x="0" y="7.20">RVI_S2</text>
<text style="font-size:10.6px" text-anchor="end" transform="translate(199.55,485.70) rotate(-45)" x="0" y="7.20">CIRE</text>
<text style="font-size:10.6px" text-anchor="end" transform="translate(223.29,485.70) rotate(-45)" x="0" y="7.20">EVI</text>
<text style="font-size:10.6px" text-anchor="end" transform="translate(247.03,485.70) rotate(-45)" x="0" y="7.20">DVI</text>
<text style="font-size:10.6px" text-anchor="end" transform="translate(270.77,485.70) rotate(-45)" x="0" y="7.20">SAVI</text>
<text style="font-size:10.6px" text-anchor="end" transform="translate(294.51,485.70) rotate(-45)" x="0" y="7.20">NDRE 2</text>
<text style="font-size:10.6px" text-anchor="end" transform="translate(318.25,485.70) rotate(-45)" x="0" y="7.20">NDVI</text>
<text style="font-size:10.6px" text-anchor="end" transform="translate(341.99,485.70) rotate(-45)" x="0" y="7.20">NDRE 1</text>
<text style="font-size:10.6px" text-anchor="end" transform="translate(365.73,485.70) rotate(-45)" x="0" y="7.20">VH × VV</text>
<text style="font-size:10.6px" text-anchor="end" transform="translate(389.47,485.70) rotate(-45)" x="0" y="7.20">SAR SDI</text>
<text style="font-size:10.6px" text-anchor="end" transform="translate(413.21,485.70) rotate(-45)" x="0" y="7.20">NDRE 3</text>
<text style="font-size:10.6px" text-anchor="end" transform="translate(436.95,485.70) rotate(-45)" x="0" y="7.20">VH/VV</text>
<text style="font-size:10.6px" text-anchor="end" transform="translate(460.69,485.70) rotate(-45)" x="0" y="7.20">RVI_S1</text>
<text style="font-size:10.6px" text-anchor="end" transform="translate(484.43,485.70) rotate(-45)" x="0" y="7.20">Pd</text>
</g>
<rect x="70.90" y="75.30" width="92.40" height="15.80" fill="url(#lg)"/>
<path d="M94.00 75.30v3.16M94.00 91.10v-3.16" stroke="#fff" stroke-width="0.6" fill="none"/>
<path d="M117.10 75.30v3.16M117.10 91.10v-3.16" stroke="#fff" stroke-width="0.6" fill="none"/>
<path d="M140.20 75.30v3.16M140.20 91.10v-3.16" stroke="#fff" stroke-width="0.6" fill="none"/>
<text class="lt" x="116.40" y="55.30">Pearson's</text>
<text class="lt" x="116.40" y="68.20">Correlation</text>
<text class="tk" x="70.90" y="103.80">-1.0</text>
<text class="tk" x="94.00" y="103.80">-0.5</text>
<text class="tk" x="117.10" y="103.80">0.0</text>
<text class="tk" x="140.20" y="103.80">0.5</text>
<text class="tk" x="163.30" y="103.80">1.0</text>
<text class="cap" x="273.20" y="535.60">ns p &gt;= 0.05; * p &lt; 0.05; ** p &lt; 0.01; and *** p &lt; 0.001</text>
</svg></body></html>
